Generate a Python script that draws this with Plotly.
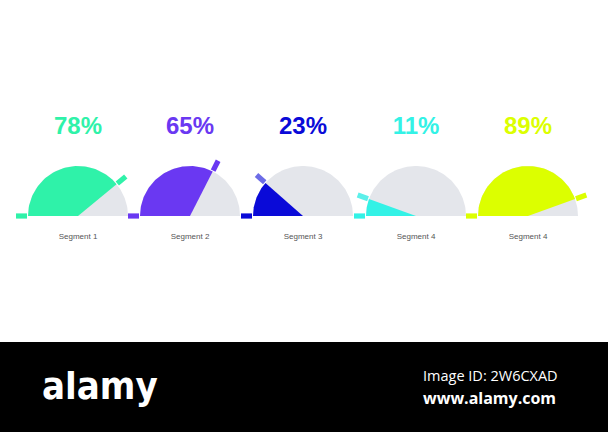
import numpy as np
import plotly.graph_objects as go

labels = ["Segment 1", "Segment 2", "Segment 3", "Segment 4", "Segment 4"]
percents = [78, 65, 23, 11, 89]
colors = ["#2ff2a9", "#6a38f2", "#0a0ad8", "#33f2e6", "#dcff00"]
tick_colors = ["#2ff2a9", "#6a38f2", "#6c6ce6", "#5cf0ea", "#dcff00"]

centers_x = [78, 190, 303, 416, 528]
base_y = 216
radius = 50
grey = "#e4e6eb"


def arc(cx, cy, r, a0, a1, n=80):
    t = np.radians(np.linspace(a0, a1, n))
    return cx + r * np.cos(t), cy - r * np.sin(t)


def tick(cx, cy, ang, r0=51, r1=62, w=2.6):
    a = np.radians(ang)
    ux, uy = np.cos(a), -np.sin(a)
    px, py = -uy, ux
    xs = [cx + ux * r0 + px * w, cx + ux * r1 + px * w, cx + ux * r1 - px * w, cx + ux * r0 - px * w]
    ys = [cy + uy * r0 + py * w, cy + uy * r1 + py * w, cy + uy * r1 - py * w, cy + uy * r0 - py * w]
    return xs + [xs[0]], ys + [ys[0]]


fig = go.Figure()

for cx, pct, col, tcol in zip(centers_x, percents, colors, tick_colors):
    end = 180 - pct * 1.8
    # grey background half disc
    gx, gy = arc(cx, base_y, radius, 180, 0)
    fig.add_trace(go.Scatter(x=list(gx) + [gx[0]], y=list(gy) + [gy[0]], fill="toself",
                             fillcolor=grey, line=dict(width=0), mode="lines", hoverinfo="skip"))
    # coloured wedge
    wx, wy = arc(cx, base_y, radius, 180, end)
    fig.add_trace(go.Scatter(x=list(wx) + [cx, wx[0]], y=list(wy) + [base_y, wy[0]], fill="toself",
                             fillcolor=col, line=dict(width=0), mode="lines", hoverinfo="skip"))
    # start and end ticks
    for ang, c in [(180, col), (end, tcol)]:
        tx, ty = tick(cx, base_y, ang)
        fig.add_trace(go.Scatter(x=tx, y=ty, fill="toself", fillcolor=c,
                                 line=dict(width=0), mode="lines", hoverinfo="skip"))

fig.add_trace(go.Scatter(
    x=centers_x, y=[128] * 5, mode="text",
    text=[f"{p}%" for p in percents],
    textfont=dict(family="Liberation Sans", size=24, color=colors, weight="bold"),
    hoverinfo="skip"))

fig.add_trace(go.Scatter(
    x=centers_x, y=[237] * 5, mode="text", text=labels,
    textfont=dict(family="Liberation Sans", size=8, color="#555555"),
    hoverinfo="skip"))

fig.add_shape(type="rect", xref="paper", yref="paper", x0=0, x1=1, y0=0, y1=90 / 432,
              fillcolor="black", line=dict(width=0), layer="above")
fig.add_annotation(x=100, y=386, text="<b>alamy</b>", showarrow=False,
                   font=dict(family="DejaVu Sans Condensed", size=38, color="white"))
fig.add_annotation(x=421, y=375, text="Image ID: 2W6CXAD", showarrow=False, xanchor="left",
                   font=dict(family="Open Sans", size=14.5, color="white"))
fig.add_annotation(x=421, y=398, text="<b>www.alamy.com</b>", showarrow=False, xanchor="left",
                   font=dict(family="Open Sans", size=16, color="white"))

fig.update_xaxes(range=[0, 608], visible=False)
fig.update_yaxes(range=[432, 0], visible=False)
fig.update_layout(
    width=608, height=432,
    margin=dict(l=0, r=0, t=0, b=0),
    plot_bgcolor="white", paper_bgcolor="white",
    showlegend=False,
)
fig.write_html("out.html", config={"displayModeBar": False},
               post_script="document.body.style.margin='0';")
